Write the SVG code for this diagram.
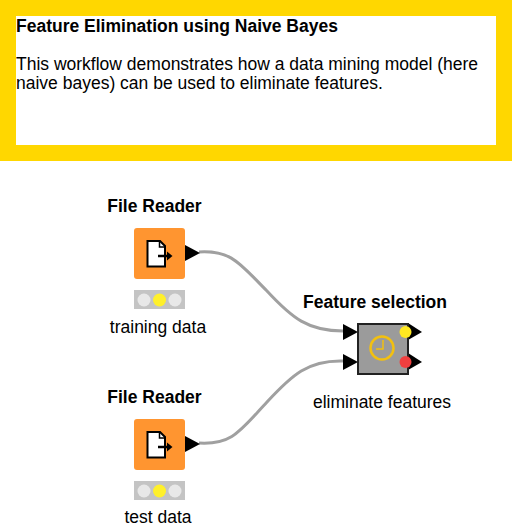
<svg xmlns="http://www.w3.org/2000/svg" width="512" height="529" viewBox="0 0 512 529">
<defs>
<style>
text{font-family:"Liberation Sans",Arial,sans-serif;fill:#000;font-size:17.500px}
.t{font-weight:bold}
.n{text-anchor:middle}
.h{font-weight:bold;text-anchor:middle}
.c{fill:none;stroke:#a0a0a0;stroke-width:3}
.o{fill:#ff9530}
.tl{fill:#c4c4c4}
.off{fill:#e8e8e8}
.y{fill:#fff02a}
.p{fill:#000}
</style>
<g id="fr-shape">
<rect class="o" x="0" y="0" width="51" height="51" rx="3"/>
<path d="M13.500 13H26L31 18V38.500H13.500Z" fill="#fff" stroke="#000" stroke-width="2"/>
<path d="M25.500 13V19H31" fill="none" stroke="#000" stroke-width="1.500"/>
<path d="M24 28H35" stroke="#000" stroke-width="2.500" fill="none"/>
<path d="M33 23.500L38.500 28L33 32.500Z" fill="#000"/>
<polygon class="p" points="51,17 66,25 51,33"/>
<rect class="tl" x="0" y="62" width="51" height="19"/>
<circle class="off" cx="10" cy="72" r="6.500"/>
<circle class="y" cx="25.500" cy="72" r="6.500"/>
<circle class="off" cx="41" cy="72" r="6.500"/>
</g>
</defs>
<g id="annotation">
<rect x="8" y="8" width="496" height="145" fill="#fff" stroke="#ffd700" stroke-width="16"/>
<text class="t" x="16" y="32">Feature Elimination using Naive Bayes</text>
<text x="16" y="70">This workflow demonstrates how a data mining model (here</text>
<text x="16" y="89">naive bayes) can be used to eliminate features.</text>
</g>
<g id="connectors">
<path class="c" d="M199 252C232 250 240 264 267 291C292 318 308 331 343 331"/>
<path class="c" d="M199 443C232 445 240 431 267 402C292 375 308 360 343 361"/>
</g>
<g id="node-training">
<text class="h" x="154.500" y="212">File Reader</text>
<use href="#fr-shape" x="134" y="228"/>
<text class="n" x="158" y="333">training data</text>
</g>
<g id="node-test">
<text class="h" x="154.500" y="403">File Reader</text>
<use href="#fr-shape" x="134" y="419"/>
<text class="n" x="158" y="523">test data</text>
</g>
<g id="node-feature">
<text class="h" x="375" y="308">Feature selection</text>
<polygon class="p" points="343,324 358,332 343,340"/>
<polygon class="p" points="343,354 358,362 343,370"/>
<polygon class="p" points="408,323 422,332 408,340"/>
<polygon class="p" points="408,353 422,362 408,370"/>
<rect x="358" y="324" width="50" height="50" fill="#9b9b9b" stroke="#222" stroke-width="2"/>
<circle cx="382" cy="348" r="11.500" fill="none" stroke="#f2c010" stroke-width="2.500"/>
<path d="M383 340V349H376" fill="none" stroke="#f2c010" stroke-width="1.500"/>
<circle cx="405.500" cy="332" r="6" fill="#ffe822"/>
<circle cx="405.500" cy="362" r="6" fill="#f04040"/>
<text class="n" x="382" y="408">eliminate features</text>
</g>
</svg>
